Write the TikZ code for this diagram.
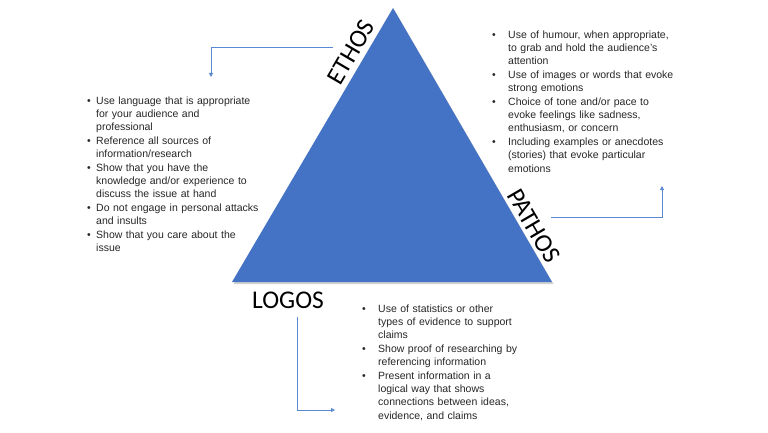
\documentclass[tikz,border=0pt]{standalone}
\usepackage{fontspec}
\setmainfont{Liberation Sans}
\newfontfamily\headfont{Carlito}
\usepackage{enumitem}
\usepackage{xcolor}
\usetikzlibrary{arrows.meta}

\definecolor{triblue}{HTML}{4472C4}
\definecolor{linkblue}{HTML}{5B88D2}
\definecolor{textgray}{HTML}{262626}

\setlist[itemize]{label=\textbullet, align=left, labelsep=0pt, topsep=0pt, partopsep=0pt, itemsep=0pt, parsep=0pt}

\begin{document}
\begin{tikzpicture}[x=1pt, y=-1pt,
		bullets/.style={anchor=north west, inner sep=0pt, text width=#1, text=textgray,
			font=\fontsize{10.5}{13.4}\selectfont},
		appeal/.style={inner sep=0pt, font=\headfont\fontsize{25.5}{25.5}\selectfont},
		link/.style={draw=linkblue, line width=0.9pt, -{Triangle[length=4pt, width=4pt]}}]
	\useasboundingbox (0,0) rectangle (768,433);
	
	% triangle
	\coordinate (apex) at (393,8);
	\coordinate (right) at (552,282);
	\coordinate (left) at (232,282);
	\fill[black, opacity=0.18] ([shift={(1.5,2)}]apex) -- ([shift={(1.5,2)}]right) -- ([shift={(1.5,2)}]left) -- cycle;
	\fill[triblue] (apex) -- (right) -- (left) -- cycle;
	
	\node[appeal, rotate=59.6] (ethos) at (351,52) {ETHOS};
	\node[appeal, rotate=-59.6] (pathos) at (534,226) {PATHOS};
	\node[appeal] (logos) at (288,300) {LOGOS};
	
	\node[bullets=200pt] (ethos list) at (87,90.5) {%
		\begin{itemize}[leftmargin=9pt, labelwidth=9pt]
			\item Use language that is appropriate\\ for your audience and\\ professional
			\item Reference all sources of\\ information/research
			\item Show that you have the\\ knowledge and/or experience to\\ discuss the issue at hand
			\item Do not engage in personal attacks\\ and insults
			\item Show that you care about the\\ issue
		\end{itemize}};
	
	\node[bullets=210pt] (pathos list) at (492,24.5) {%
		\begin{itemize}[leftmargin=16pt, labelwidth=16pt]
			\item Use of humour, when appropriate,\\ to grab and hold the audience’s\\ attention
			\item Use of images or words that evoke\\ strong emotions
			\item Choice of tone and/or pace to\\ evoke feelings like sadness,\\ enthusiasm, or concern
			\item Including examples or anecdotes\\ (stories) that evoke particular\\ emotions
		\end{itemize}};
	
	\node[bullets=200pt] (logos list) at (362,298.5) {%
		\begin{itemize}[leftmargin=16pt, labelwidth=16pt]
			\item Use of statistics or other\\ types of evidence to support\\ claims
			\item Show proof of researching by\\ referencing information
			\item Present information in a\\ logical way that shows\\ connections between ideas,\\ evidence, and claims
		\end{itemize}};
	
	% elbow arrows
	\coordinate (ethos from) at (333,47);
	\coordinate (ethos to) at (211,77);
	\coordinate (pathos from) at (551,217);
	\coordinate (pathos to) at (662,186);
	\coordinate (logos from) at (297,317);
	\coordinate (logos to) at (335,410);
	\draw[link] (ethos from) -| (ethos to);
	\draw[link] (pathos from) -| (pathos to);
	\draw[link] (logos from) |- (logos to);
\end{tikzpicture}
\end{document}
